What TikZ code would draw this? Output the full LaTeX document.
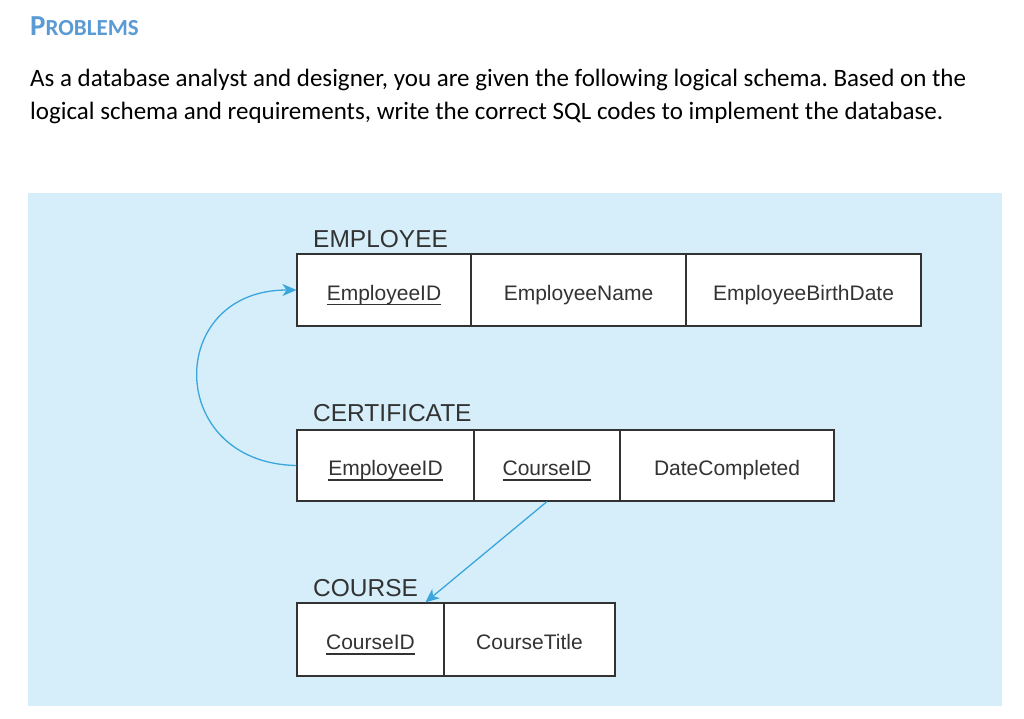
\documentclass[tikz,border=0pt]{standalone}
\usepackage{fontspec}
\setmainfont{Carlito}
\newfontfamily\tabfont{Liberation Sans}
\usetikzlibrary{arrows.meta,calc}
\definecolor{panel}{HTML}{D5EEFA}
\definecolor{arrowblue}{HTML}{3AA6DC}
\definecolor{headblue}{HTML}{5B9BD5}
\definecolor{ink}{HTML}{333333}
\newcommand\pkey[1]{\setbox0\hbox{#1}\rlap{\rule[-5pt]{\wd0}{1.5pt}}\box0}
\frenchspacing
\tikzset{
  cell/.style={draw=ink, line width=1.1pt, fill=white, inner sep=0pt, text=ink,
    text height=20pt, text depth=0pt,
    font=\tabfont\fontsize{21}{24}\selectfont},
  tlabel/.style={anchor=base west, inner sep=0pt, text=ink,
    font=\tabfont\fontsize{24.5}{28}\selectfont},
  para/.style={anchor=base west, inner sep=0pt, text=black,
    font=\fontsize{25}{30}\selectfont},
  fk/.style={draw=arrowblue, line width=1.3pt, -{Stealth[length=14pt,width=12pt,inset=4pt]}}
}
\begin{document}
\begin{tikzpicture}[x=1pt,y=-1pt]
\useasboundingbox (0,0) rectangle (1024,718);
\fill[white] (0,0) rectangle (1024,718);
% heading and paragraph
\node[anchor=base west, inner sep=0pt, text=headblue, font=\bfseries] (head) at (30,35)
  {\fontsize{29}{30}\selectfont P\fontsize{23}{30}\selectfont ROBLEMS};
\node[para] (p1) at (30,86) {As a database analyst and designer, you are given the following logical schema. Based on the};
\node[para] (p2) at (30,119) {logical schema and requirements, write the correct SQL codes to implement the database.};
% panel
\fill[panel] (28,193) rectangle (1002,706);
% EMPLOYEE
\node[tlabel] (lemp) at (313,247) {EMPLOYEE};
\node[cell, minimum width=174pt, minimum height=72pt] (e1) at (384,290) {\pkey{EmployeeID}};
\node[cell, minimum width=215pt, minimum height=72pt] (e2) at (578.5,290) {EmployeeName};
\node[cell, minimum width=235pt, minimum height=72pt] (e3) at (803.5,290) {EmployeeBirthDate};
% CERTIFICATE
\node[tlabel] (lcert) at (313,421) {CERTIFICATE};
\node[cell, minimum width=177pt, minimum height=71pt] (c1) at (385.5,465.5) {\pkey{EmployeeID}};
\node[cell, minimum width=146pt, minimum height=71pt] (c2) at (547,465.5) {\pkey{CourseID}};
\node[cell, minimum width=214pt, minimum height=71pt] (c3) at (727,465.5) {DateCompleted};
% COURSE
\node[tlabel] (lcourse) at (313,596) {COURSE};
\node[cell, minimum width=147pt, minimum height=73pt] (k1) at (370.5,639.5) {\pkey{CourseID}};
\node[cell, minimum width=171pt, minimum height=73pt] (k2) at (529.5,639.5) {CourseTitle};
% connectors
\draw[fk] (c1.west) .. controls (165,463) and (165,290) .. (e1.west);
\draw[fk] (c2.south) -- ($(k1.north east)!0.13!(k1.north west)$);
\end{tikzpicture}
\end{document}
